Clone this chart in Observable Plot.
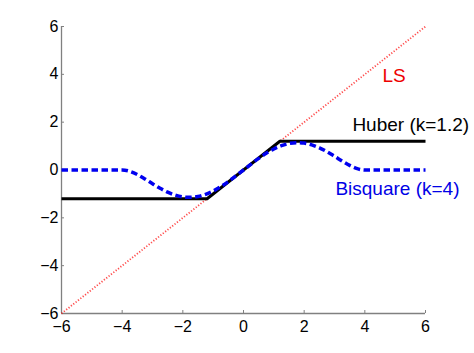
<!DOCTYPE html>
<html>
<head>
<meta charset="utf-8">
<script src="https://cdn.jsdelivr.net/npm/d3@7"></script>
<script src="https://cdn.jsdelivr.net/npm/@observablehq/plot@0.6"></script>
<style>
  html, body { margin: 0; padding: 0; background: #fff; }
  svg { display: block; }
</style>
</head>
<body>
<div id="chart"></div>
<script>
// Tick values and labels
const tickValues = [-6, -4, -2, 0, 2, 4, 6];
const tickLabels = ["\u22126", "\u22124", "\u22122", "0", "2", "4", "6"];

// LS (least squares) psi function
const lsX = [-6, 6];
const lsY = [-6, 6];

// Huber (k = 1.2)
const huberX = [-6, -1.2, 1.2, 6];
const huberY = [-1.2, -1.2, 1.2, 1.2];

// Bisquare (k = 4)
const bisqX = [-6, -4, -3.75, -3.5, -3.25, -3, -2.75, -2.5, -2.25, -2, -1.75, -1.5, -1.25, -1, -0.75, -0.5, -0.25, 0,
               0.25, 0.5, 0.75, 1, 1.25, 1.5, 1.75, 2, 2.25, 2.5, 2.75, 3, 3.25, 3.5, 3.75, 4, 6];
const bisqY = [0, 0, -0.055, -0.192, -0.375, -0.574, -0.765, -0.928, -1.051, -1.125, -1.144, -1.108, -1.018, -0.879, -0.698, -0.484, -0.248, 0,
               0.248, 0.484, 0.698, 0.879, 1.018, 1.108, 1.144, 1.125, 1.051, 0.928, 0.765, 0.574, 0.375, 0.192, 0.055, 0, 0];

// Annotation labels
const labelText = ["LS", "Huber (k=1.2)", "Bisquare (k=4)"];
const labelX = [4.58, 3.59, 3.03];
const labelY = [3.93, 1.90, -0.80];
const labelColor = ["#ee0000", "#000000", "#0000e6"];

const toRows = (xs, ys) => xs.map((x, i) => ({x, y: ys[i]}));
const labels = labelText.map((t, i) => ({t, x: labelX[i], y: labelY[i], c: labelColor[i]}));
const fmt = d => tickLabels[tickValues.indexOf(d)];

const chart = Plot.plot({
  width: 474,
  height: 353,
  marginLeft: 61,
  marginRight: 49,
  marginTop: 26,
  marginBottom: 40,
  style: {fontFamily: "'Liberation Sans', Arial, Helvetica, sans-serif", fontSize: "16px", color: "#000", background: "#fff"},
  x: {domain: [-6, 6], label: null},
  y: {domain: [-6, 6], label: null},
  marks: [
    // axis lines
    Plot.ruleX([-6], {stroke: "#808080", strokeWidth: 1.3}),
    Plot.ruleY([-6], {stroke: "#808080", strokeWidth: 1.3}),
    // inward ticks
    Plot.axisX({ticks: tickValues, tickSize: 3, dy: -3, text: null, label: null, stroke: "#808080"}),
    Plot.axisY({ticks: tickValues, tickSize: 3, dx: 3, text: null, label: null, stroke: "#808080"}),
    // tick labels
    Plot.axisX({ticks: tickValues, tickFormat: fmt, tickSize: 0, tickPadding: 7, label: null, fill: "#000", fontSize: 16}),
    Plot.axisY({ticks: tickValues, tickFormat: fmt, tickSize: 0, tickPadding: 3, label: null, fill: "#000", fontSize: 16}),
    // series
    Plot.line(toRows(lsX, lsY), {x: "x", y: "y", stroke: "#ff1010", strokeWidth: 1.8, strokeDasharray: "1.2,1.8", strokeLinecap: "butt", strokeOpacity: 0.75}),
    Plot.line(toRows(huberX, huberY), {x: "x", y: "y", stroke: "#000", strokeWidth: 3, strokeLinecap: "butt"}),
    Plot.line(toRows(bisqX, bisqY), {x: "x", y: "y", stroke: "#0000f0", strokeWidth: 3.5, strokeDasharray: "6.5,3.5", strokeLinecap: "butt", curve: "monotone-x"}),
    // annotations
    Plot.text(labels, {x: "x", y: "y", text: "t", fill: "c", textAnchor: "start", lineAnchor: "middle", fontSize: 19})
  ]
});

document.getElementById("chart").appendChild(chart);
</script>
</body>
</html>
